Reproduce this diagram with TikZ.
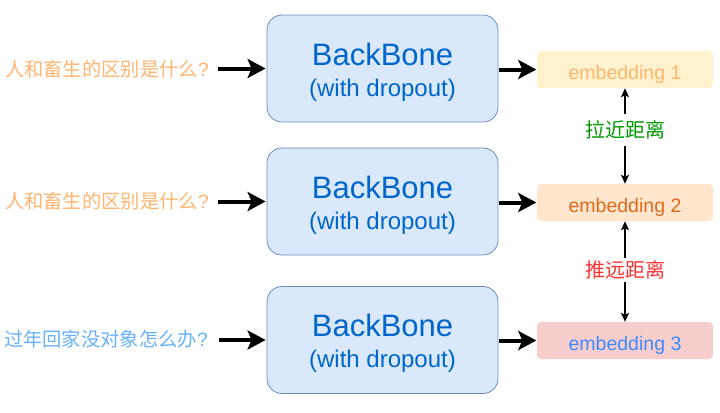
\documentclass[tikz,border=0pt]{standalone}
\usepackage{fontspec}
\setmainfont{Liberation Sans}
\newfontfamily\cjk{Noto Sans CJK SC}
\usetikzlibrary{arrows.meta}
\definecolor{bbfill}{HTML}{DAE8FC}
\definecolor{bbdraw}{HTML}{6C8EBF}
\definecolor{bbtext}{HTML}{0066CC}
\definecolor{qorange}{HTML}{FFB570}
\definecolor{qblue}{HTML}{66B2FF}
\definecolor{eyfill}{HTML}{FFF2CC}
\definecolor{eofill}{HTML}{FFE6CC}
\definecolor{erfill}{HTML}{F8CECC}
\definecolor{eotext}{HTML}{DE6B1E}
\definecolor{ebtext}{HTML}{3D8BFF}
\definecolor{lgreen}{HTML}{009900}
\definecolor{lred}{HTML}{FF3333}
\tikzset{
  backbone/.style={draw=bbdraw, line width=0.8bp, fill=bbfill, rounded corners=15bp,
    minimum width=231bp, minimum height=107bp, align=center, text=bbtext, inner sep=0pt,
    font=\fontsize{24bp}{28bp}\selectfont},
  embbox/.style={rounded corners=4bp, minimum width=176bp, minimum height=37bp,
    inner sep=0pt, text height=20bp, text depth=0bp, font=\fontsize{19.5bp}{23bp}\selectfont},
  question/.style={anchor=east, inner sep=0pt, font=\fontsize{19.3bp}{23bp}\selectfont},
  bigarrow/.style={line width=4bp, -{Stealth[length=18bp,width=19bp,inset=4bp]}},
  thinarrow/.style={line width=1.4bp, {Stealth[length=9bp,width=8bp,inset=2bp]}-{Stealth[length=9bp,width=8bp,inset=2bp]}},
  dist/.style={fill=white, inner xsep=2bp, inner ysep=7bp, font=\cjk\fontsize{20bp}{24bp}\selectfont}
}
\newcommand{\bbtxt}{\rule{0pt}{29bp}{\fontsize{31bp}{36bp}\selectfont BackBone}\\[3bp](with dropout)}
\begin{document}
\begin{tikzpicture}[x=1bp, y=-1bp]
\useasboundingbox (0,0) rectangle (720,412);
% backbones
\node[backbone] (bb1) at (382.5,68.5) {\bbtxt};
\node[backbone] (bb2) at (382.5,201.5) {\bbtxt};
\node[backbone] (bb3) at (382.5,340) {\bbtxt};
% questions
\node[question, text=qorange] (q1) at (209,69) {{\cjk 人和畜生的区别是什么}?};
\node[question, text=qorange] (q2) at (209,201) {{\cjk 人和畜生的区别是什么}?};
\node[question, text=qblue] (q3) at (208,339.5) {{\cjk 过年回家没对象怎么办}?};
% embeddings
\node[embbox, fill=eyfill, text=qorange] (e1) at (625,69.5) {embedding 1};
\node[embbox, fill=eofill, text=eotext] (e2) at (625,202.5) {embedding 2};
\node[embbox, fill=erfill, text=ebtext] (e3) at (625,340.5) {embedding 3};
% input arrows
\draw[bigarrow, shorten <=9bp, shorten >=1bp] (q1.east |- bb1.west) -- (bb1.west);
\draw[bigarrow, shorten <=9bp, shorten >=1bp] (q2.east |- bb2.west) -- (bb2.west);
\draw[bigarrow, shorten <=11bp, shorten >=1bp] (q3.east |- bb3.west) -- (bb3.west);
% output arrows
\draw[bigarrow, shorten <=0.5bp, shorten >=0.5bp] (bb1.east |- e1.west) -- (e1.west);
\draw[bigarrow, shorten <=0.5bp, shorten >=0.5bp] (bb2.east |- e2.west) -- (e2.west);
\draw[bigarrow, shorten <=0.5bp, shorten >=0.5bp] (bb3.east |- e3.west) -- (e3.west);
% distance arrows
\draw[thinarrow] (e1.south) -- (e2.north);
\draw[thinarrow] (e2.south) -- (e3.north);
\node[dist, text=lgreen] (d1) at (625,130) {拉近距离};
\node[dist, text=lred, inner ysep=3bp] (d2) at (625,270) {推远距离};
\end{tikzpicture}
\end{document}
